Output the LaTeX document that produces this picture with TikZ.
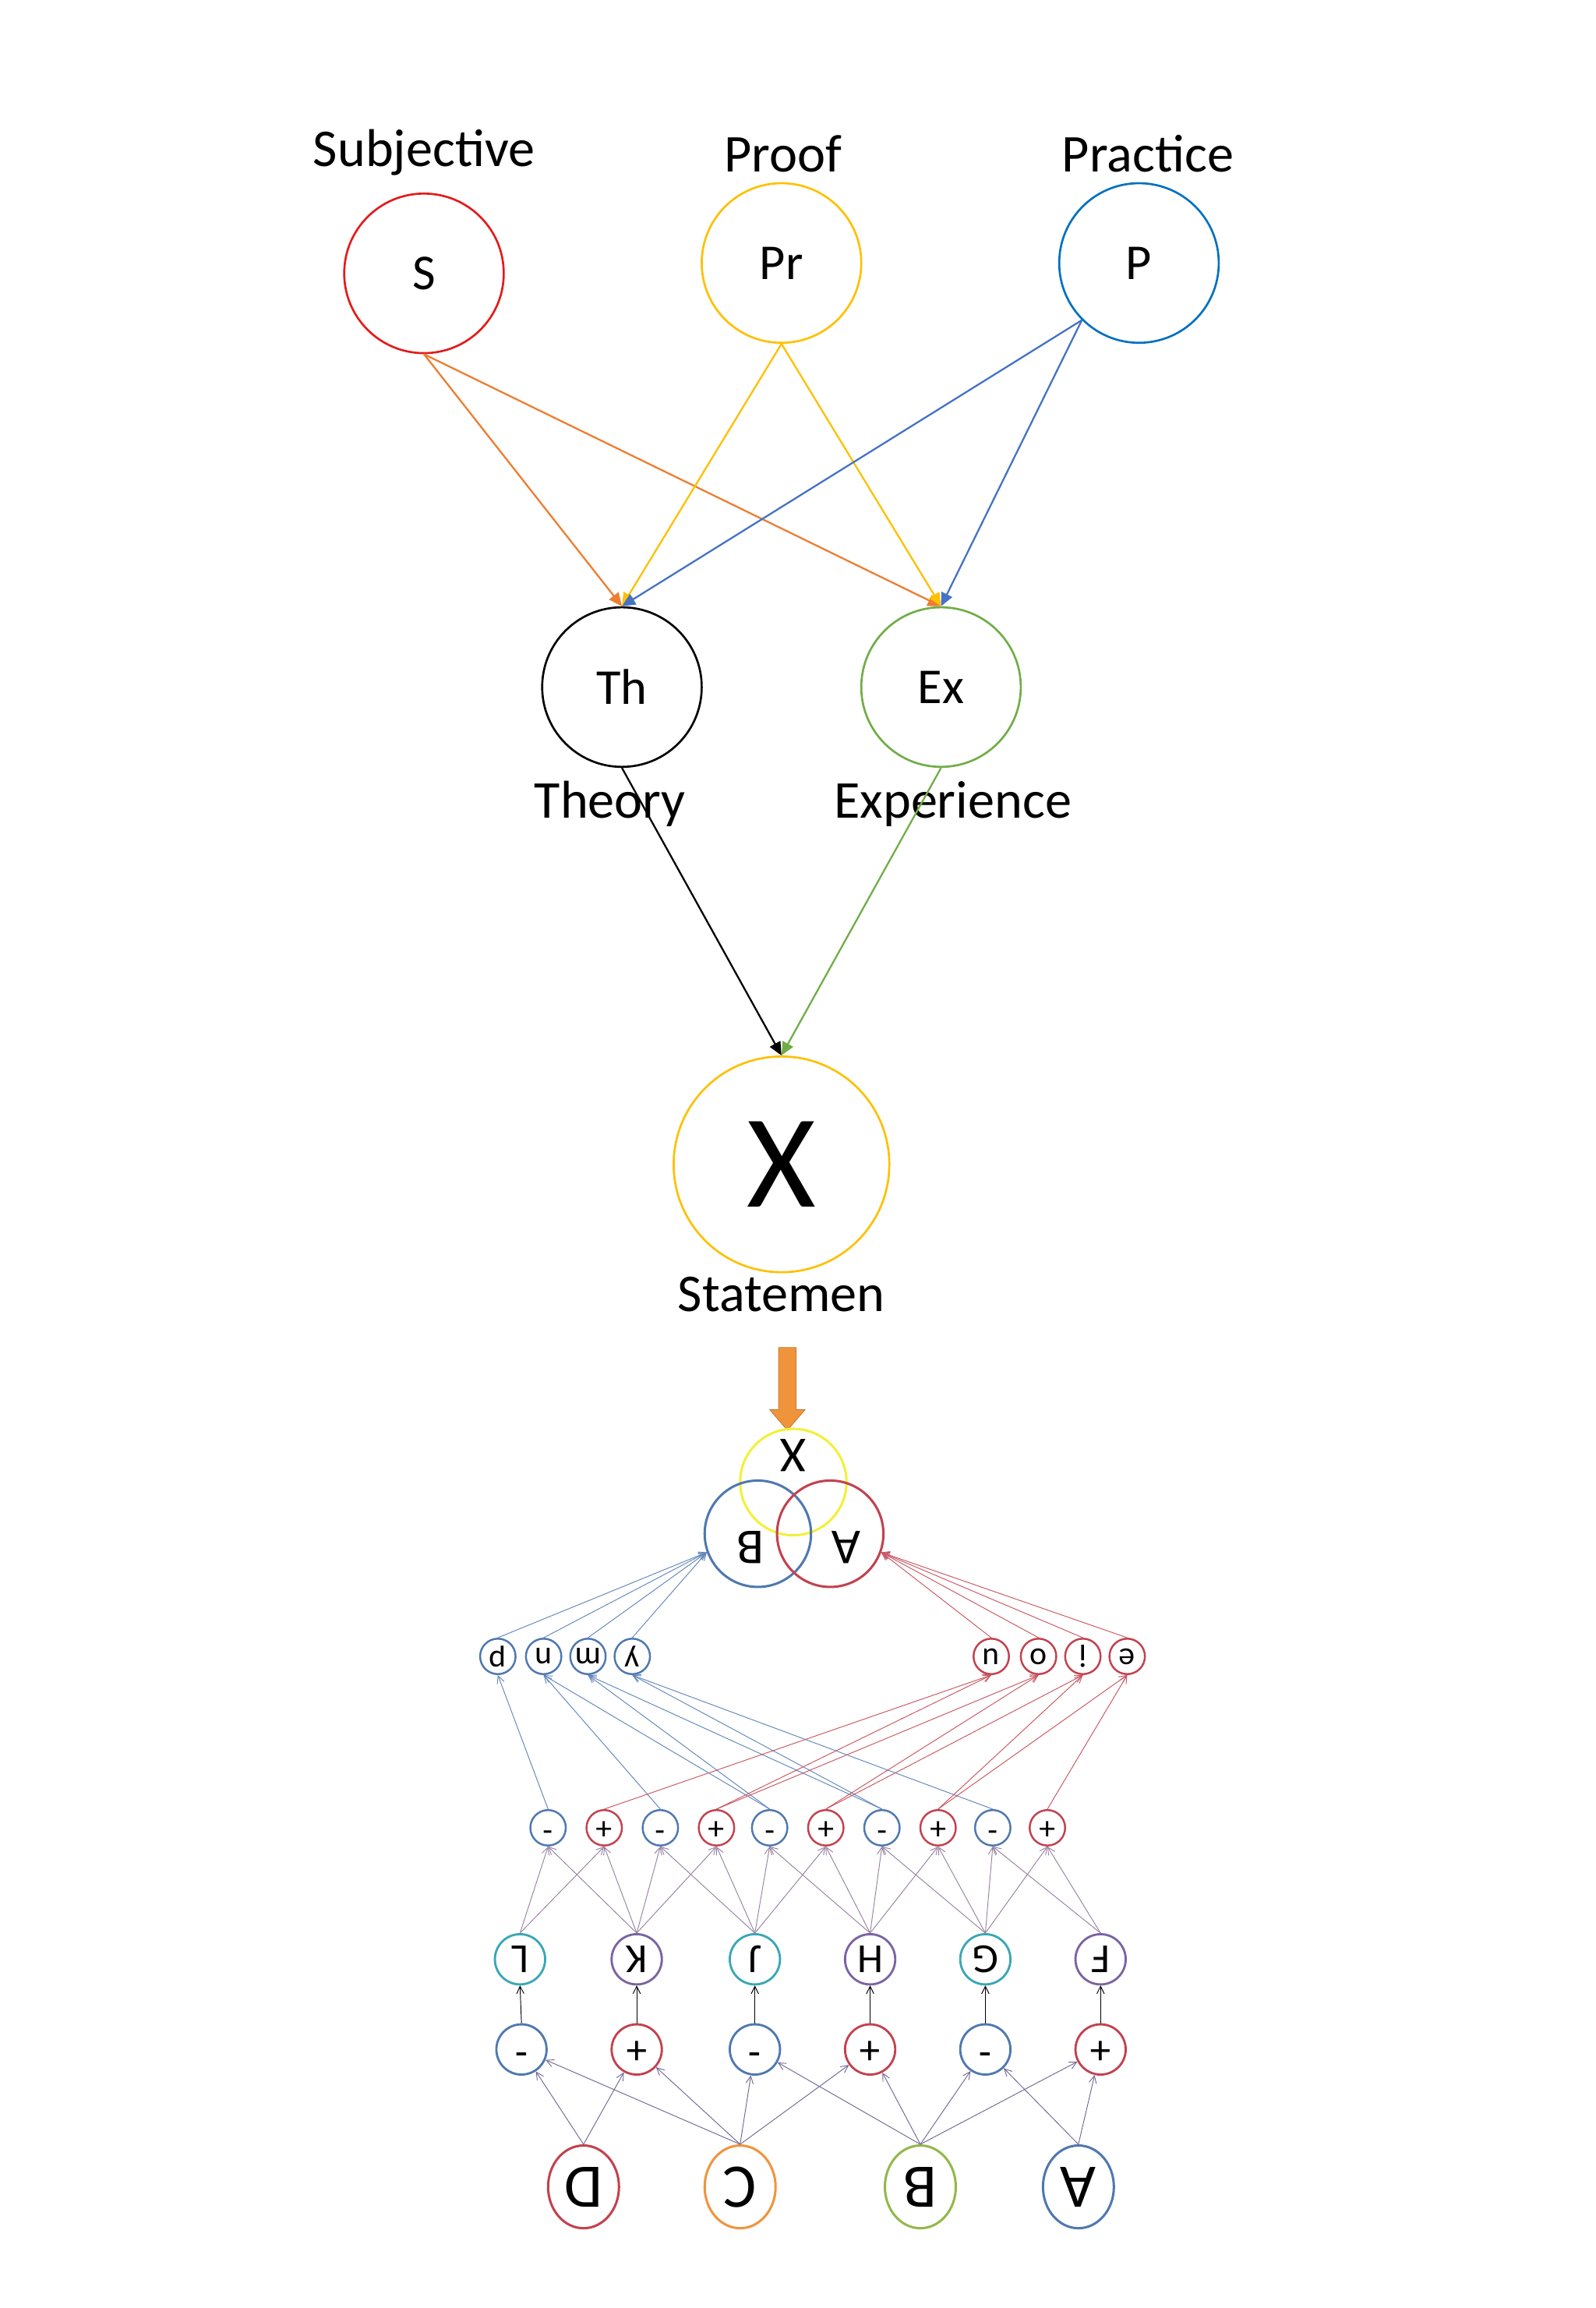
\documentclass[tikz,border=0pt]{standalone}
\usepackage{fontspec}
\setmainfont{Carlito}
\usetikzlibrary{arrows.meta,shapes.geometric}
\definecolor{cR}{HTML}{E31B1B}
\definecolor{cGold}{HTML}{FFC000}
\definecolor{cBl}{HTML}{0070C0}
\definecolor{cOr}{HTML}{ED7D31}
\definecolor{cBa}{HTML}{4472C4}
\definecolor{cGr}{HTML}{70AD47}
\definecolor{nB}{HTML}{4F78B0}
\definecolor{nR}{HTML}{C2424F}
\definecolor{nT}{HTML}{3AA7B5}
\definecolor{nP}{HTML}{7B63A3}
\definecolor{nO}{HTML}{F0943C}
\definecolor{nG}{HTML}{93B84A}
\definecolor{nY}{HTML}{F2F03A}
\begin{document}
\begin{tikzpicture}[x=1pt,y=-1pt,
  big/.style={circle,draw,line width=1.4pt,minimum size=108pt,inner sep=0pt,font=\fontsize{34}{34}\selectfont},
  lab/.style={font=\fontsize{36}{36}\selectfont},
  ta/.style={line width=1.2pt,-{Triangle[length=9pt,width=8pt]}},
  sm/.style={circle,draw,line width=1.3pt,minimum size=24pt,inner sep=0pt,rotate=180,font=\fontsize{22}{22}\selectfont},
  md/.style={circle,draw,line width=1.5pt,minimum size=34pt,inner sep=0pt,rotate=180,font=\fontsize{28}{28}\selectfont},
  lg/.style={ellipse,draw,line width=1.6pt,minimum width=48pt,minimum height=56pt,inner sep=0pt,rotate=180,font=\fontsize{42}{42}\selectfont},
  na/.style={line width=0.5pt,-{Straight Barb[length=5pt,width=5pt]}},
  fl/.style={rotate=180}]
\useasboundingbox (0,0) rectangle (1080,1562);
% top
\node[lab] (tS) at (287,103) {Subjective};
\node[lab] (tPr) at (530,104) {Proof};
\node[lab] (tP) at (777,104) {Practice};
\node[big,cR,text=black] (S) at (287,185) {S};
\node[big,cGold,text=black] (Pr) at (529,178) {Pr};
\node[big,cBl,text=black] (P) at (771,178) {P};
\node[big,black] (Th) at (421,465) {Th};
\node[big,cGr,text=black] (Ex) at (637,465) {Ex};
\node[lab] (tTh) at (413,544) {Theory};
\node[lab] (tEx) at (645,544) {Experience};
\node[big,cGold,text=black,minimum size=146pt,font=\fontsize{90}{90}\selectfont] (X) at (529,788) {X};
\node[lab] (tX) at (529,876) {Statemen};
\draw[ta,cOr] (S.south) -- (Th.north);
\draw[ta,cOr] (S.south) -- (Ex.north);
\draw[ta,cGold] (Pr.south) -- (Th.north);
\draw[ta,cGold] (Pr.south) -- (Ex.north);
\draw[ta,cBa] (P.-135) -- (Th.north);
\draw[ta,cBa] (P.-135) -- (Ex.north);
\draw[ta,black] (Th.south) -- (X.north);
\draw[ta,cGr] (Ex.south) -- (X.north);
% orange block arrow
\fill[nO,draw=nO!80!black,line width=0.4pt] (527,912) -- (539,912) -- (539,954) -- (545,954) -- (533,968) -- (521,954) -- (527,954) -- cycle;
% venn
\node[circle,draw=nY,line width=1.6pt,minimum size=72pt] (VX) at (537,1003) {};
\node[circle,draw=nB,line width=1.6pt,minimum size=72pt] (VB) at (513,1038) {};
\node[circle,draw=nR,line width=1.6pt,minimum size=72pt] (VA) at (562,1038) {};
\node[fl,font=\fontsize{34}{34}\selectfont] (lX) at (537,985) {X};
\node[fl,font=\fontsize{34}{34}\selectfont] (lB) at (508,1047) {B};
\node[fl,font=\fontsize{34}{34}\selectfont] (lA) at (573,1047) {A};
% letters row
\foreach \n/\x/\t in {p/337/p,n/368/n,m/398/m,y/428/y}
  \node[sm,nB,text=black] (\n) at (\x,1121) {\t};
\foreach \n/\x/\t in {u/671/u,o/703/o,i/733/i,e/763/e}
  \node[sm,nR,text=black] (\n) at (\x,1121) {\t};
% pm row
\foreach \k/\x in {1/371,3/447,5/521,7/597,9/672}
  \node[sm,nB,text=black] (s\k) at (\x,1237) {-};
\foreach \k/\x in {2/409,4/485,6/559,8/635,10/709}
  \node[sm,nR,text=black] (s\k) at (\x,1237) {+};
% L..F
\foreach \n/\x/\c in {L/352/nT,K/431/nP,J/511/nT,H/589/nP,G/667/nT,F/745/nP}
  \node[md,\c,text=black] (\n) at (\x,1326) {\n};
\foreach \n/\x/\c/\t in {q1/353/nB/-,q2/431/nR/+,q3/511/nB/-,q4/589/nR/+,q5/667/nB/-,q6/745/nR/+}
  \node[md,\c,text=black] (\n) at (\x,1387) {\t};
% bottom
\node[lg,nR,text=black] (D) at (395,1480) {D};
\node[lg,nO,text=black] (C) at (501,1480) {C};
\node[lg,nG,text=black] (B) at (623,1480) {B};
\node[lg,nB,text=black] (A) at (730,1480) {A};
% bottom edges (nodes rotated 180: .south is the top point)
\foreach \a/\b in {D/q1,D/q2,C/q1,C/q2,C/q3,C/q4,B/q3,B/q4,B/q5,B/q6,A/q5,A/q6}
  \draw[na,nB!70!nR] (\a.south) -- (\b);
\foreach \a/\b in {q1/L,q2/K,q3/J,q4/H,q5/G,q6/F}
  \draw[na,black] (\a.south) -- (\b.north);
\foreach \a/\b in {L/s1,L/s2,K/s1,K/s2,K/s3,K/s4,J/s3,J/s4,J/s5,J/s6,H/s5,H/s6,H/s7,H/s8,G/s7,G/s8,G/s9,G/s10,F/s9,F/s10}
  \draw[na,nB!60!nR!80] (\a.south) -- (\b.north);
\foreach \a/\b in {s1/p,s3/n,s5/n,s5/m,s7/m,s7/y,s9/y}
  \draw[na,nB!90] (\a.south) -- (\b.north);
\foreach \a/\b in {s2/u,s4/u,s4/o,s6/o,s6/i,s8/i,s8/e,s10/e}
  \draw[na,nR!90] (\a.south) -- (\b.north);
\foreach \a in {p,n,m,y}
  \draw[na,nB!90] (\a.south) -- (VB.-160);
\foreach \a in {u,o,i,e}
  \draw[na,nR!90] (\a.south) -- (VA.-20);
\end{tikzpicture}
\end{document}
